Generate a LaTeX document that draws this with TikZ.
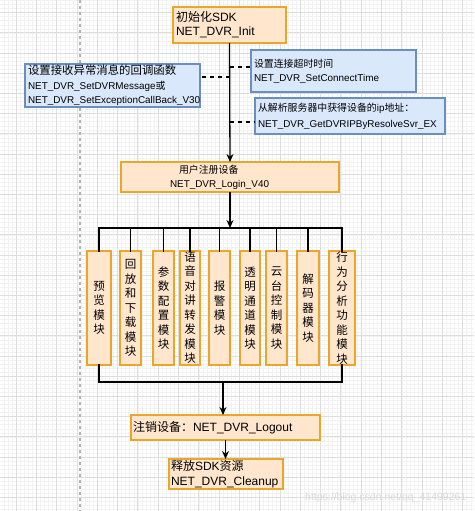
\documentclass[tikz,border=0pt]{standalone}
\usepackage{fontspec}
\setmainfont{Liberation Sans}
\newfontfamily\cjk{Noto Sans CJK SC}
\usetikzlibrary{arrows.meta}
\definecolor{ofill}{HTML}{FFE6CC}
\definecolor{ostroke}{HTML}{E8A72A}
\definecolor{bfill}{HTML}{DAE8FC}
\definecolor{bstroke}{HTML}{6C8EBF}
\newcommand{\zhtxt}[1]{{\cjk #1}}
\tikzset{
  box/.style={draw, line width=1.2pt, inner ysep=0pt, outer sep=0pt, anchor=north west},
  obox/.style={box, fill=ofill, draw=ostroke},
  bbox/.style={box, fill=bfill, draw=bstroke},
  modbox/.style={obox, inner xsep=0pt, minimum height=114pt, align=center, font=\cjk\fontsize{11.5}{14.5}\selectfont},
  flow/.style={line width=1.3pt, -{Stealth[length=8pt,width=7pt]}},
  link/.style={line width=1.3pt, line cap=rect},
  dashlink/.style={line width=1.2pt, dash pattern=on 4pt off 4pt},
  minorgrid/.style={black!5, line width=0.4pt},
  majorgrid/.style={black!13, line width=0.7pt},
}
\begin{document}
\begin{tikzpicture}[x=1pt, y=-1pt]
\useasboundingbox (0,0) rectangle (474,511);
\fill[white] (0,0) rectangle (474,511);
\begin{scope}
  \clip (0,0) rectangle (474,511);
  \foreach \i in {0,...,120} \draw[minorgrid] ({-4.3+4.06*\i},0) -- ++(0,511);
  \foreach \i in {0,...,130} \draw[minorgrid] (0,{-7.6+4.04*\i}) -- ++(474,0);
  \foreach \i in {0,...,23} \draw[majorgrid] ({16+20.3*\i},0) -- ++(0,511);
  \foreach \i in {0,...,25} \draw[majorgrid] (0,{12.6+20.2*\i}) -- ++(474,0);
  \draw[black!30, line width=1.2pt, dash pattern=on 3pt off 3pt] (80,0) -- (80,511);
\end{scope}

% top boxes
\node[obox, text width=107pt, inner xsep=3pt, minimum height=36pt, align=left,
      font=\fontsize{12}{14}\selectfont] (init) at (173,7)
      {\zhtxt{初始化}SDK\\NET\_DVR\_Init};
\node[bbox, text width=169pt, inner xsep=3pt, minimum height=43pt, align=left,
      font=\fontsize{9.9}{14.5}\selectfont] (cb) at (25,64)
      {{\fontsize{11.4}{14}\selectfont\zhtxt{设置接收异常消息的回调函数}}\\NET\_DVR\_SetDVRMessage\zhtxt{或}\\NET\_DVR\_SetExceptionCallBack\_V30};
\node[bbox, text width=159pt, inner xsep=3pt, minimum height=42pt, align=left,
      font=\fontsize{9.9}{14}\selectfont] (ct) at (251,50)
      {\zhtxt{设置连接超时时间}\\NET\_DVR\_SetConnectTime};
\node[bbox, text width=184pt, inner xsep=3pt, minimum height=36pt, align=left,
      font=\fontsize{9.9}{16}\selectfont] (ip) at (255,98)
      {\zhtxt{从解析服务器中获得设备的}ip\zhtxt{地址：}\\NET\_DVR\_GetDVRIPByResolveSvr\_EX};
\node[obox, text width=218pt, inner xsep=0pt, minimum height=30pt, align=left,
      font=\fontsize{9.9}{14}\selectfont] (login) at (121,162)
      {\hspace*{58pt}\zhtxt{用户注册设备}\\\hspace*{49pt}NET\_DVR\_Login\_V40};

% modules
\node[modbox, text width=24pt] (m1) at (87,251)  {预\\览\\模\\块};
\node[modbox, text width=21pt] (m2) at (120,251) {回\\放\\和\\下\\载\\模\\块};
\node[modbox, text width=21pt] (m3) at (153,251) {参\\数\\配\\置\\模\\块};
\node[modbox, text width=20pt] (m4) at (180,251) {语\\音\\对\\讲\\转\\发\\模\\块};
\node[modbox, text width=21pt] (m5) at (209,251) {报\\警\\模\\块};
\node[modbox, text width=20pt] (m6) at (240,251) {透\\明\\通\\道\\模\\块};
\node[modbox, text width=21pt] (m7) at (266,251) {云\\台\\控\\制\\模\\块};
\node[modbox, text width=22pt] (m8) at (297,251) {解\\码\\器\\模\\块};
\node[modbox, text width=26pt] (m9) at (329,251) {行\\为\\分\\析\\功\\能\\模\\块};

% bottom boxes
\node[obox, text width=185pt, inner xsep=2pt, minimum height=25pt, align=left,
      font=\fontsize{12}{14}\selectfont] (lo) at (131,415)
      {\zhtxt{注销设备：}NET\_DVR\_Logout};
\node[obox, text width=110pt, inner xsep=2pt, minimum height=30pt, align=left,
      font=\fontsize{12}{15}\selectfont] (cu) at (169,459)
      {\zhtxt{释放}SDK\zhtxt{资源}\\NET\_DVR\_Cleanup};

% connectors
\draw[flow] (init.south) -- (login.north);
\coordinate (j1) at (230,77);
\coordinate (j2) at (230,67);
\coordinate (j3) at (230,122);
\draw[dashlink] (j1) -- (j1 -| cb.east);
\draw[dashlink] (j2) -- (j2 -| ct.west);
\draw[dashlink] (j3) -- (j3 -| ip.west);

\coordinate (bt) at (230,228);
\draw[flow] (login.south) -- (bt);
\draw[link] (m1.north |- bt) -- (m9.north |- bt);
\foreach \n in {m1,m2,m3,m4,m5,m6,m7,m8,m9} \draw[link] (\n.north |- bt) -- (\n.north);

\coordinate (bb) at (223,382);
\draw[link] (m1.south) -- (m1.south |- bb) -- (m9.south |- bb) -- (m9.south);
\draw[flow] (bb) -- (bb |- lo.north);
\draw[flow] (lo.south) -- (lo.south |- cu.north);

\node[text=black!14, font=\fontsize{10.5}{12}\selectfont, anchor=west, inner sep=0pt] (wm) at (305,498)
  {https://blog.csdn.net/qq\_41499261};
\end{tikzpicture}
\end{document}
